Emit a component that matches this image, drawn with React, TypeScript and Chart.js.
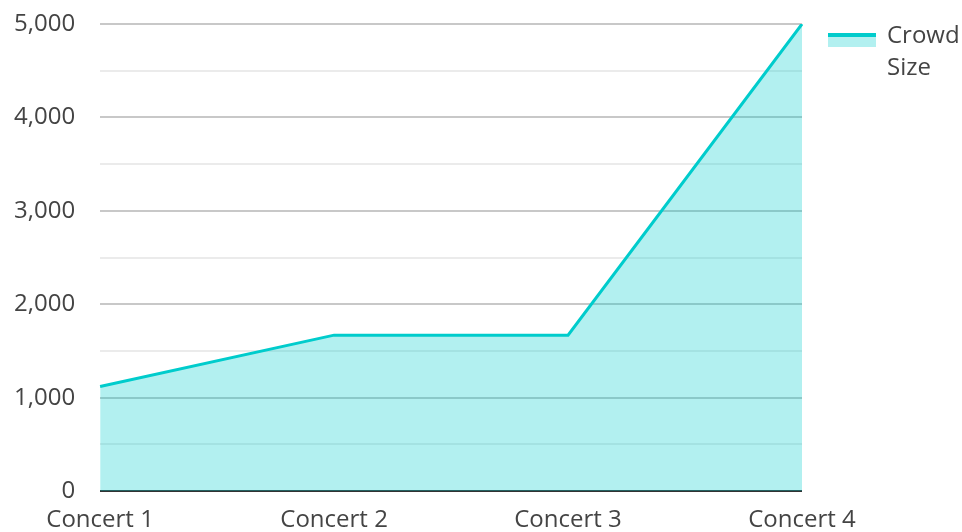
import * as React from 'react';
import { useEffect, useRef } from 'react';
import { Chart, registerables } from 'chart.js';

Chart.register(...registerables);

const categories = ['Concert 1', 'Concert 2', 'Concert 3', 'Concert 4'];
const crowdSize = [1120, 1670, 1670, 5000];
const seriesLabel = 'Crowd Size';

const LINE = '#00cccc';
const FILL = 'rgba(0, 205, 205, 0.3)';
const FONT = '"Open Sans", "Noto Sans", sans-serif';

const App = () => {
  const canvasRef = useRef<HTMLCanvasElement>(null);

  useEffect(() => {
    document.body.style.margin = '0';
    const ctx = canvasRef.current!.getContext('2d')!;
    const chart = new Chart(ctx, {
      type: 'line',
      data: {
        labels: categories,
        datasets: [{
          label: seriesLabel,
          data: crowdSize,
          borderColor: LINE,
          backgroundColor: FILL,
          borderWidth: 3,
          fill: 'origin',
          tension: 0,
          pointRadius: 0,
          pointHoverRadius: 0,
        }],
      },
      options: {
        animation: false,
        responsive: true,
        maintainAspectRatio: false,
        layout: { padding: { left: -11, right: 160, top: 24, bottom: -18 } },
        plugins: {
          legend: { display: false },
          tooltip: { enabled: false },
        },
        scales: {
          x: {
            offset: false,
            grid: { display: false, drawTicks: false },
            border: { display: false },
            ticks: {
              padding: 15,
              color: '#444',
              font: { family: FONT, size: 24 },
              maxRotation: 0,
            },
          },
          y: {
            min: 0,
            max: 5000,
            border: { display: false },
            // tick padding would otherwise push the plot top down
            afterFit: (scale: any) => {
              scale.paddingTop = 0;
              scale.paddingBottom = 0;
            },
            grid: {
              drawTicks: false,
              color: (c: any) => c.tick.value === 0 ? '#333' : (c.tick.value % 1000 === 0 ? '#c8c8c8' : '#ebebeb'),
              lineWidth: 2,
            },
            ticks: {
              stepSize: 500,
              padding: 25,
              color: '#444',
              font: { family: FONT, size: 24 },
              callback: (v: any) => (Number(v) % 1000 === 0 ? Number(v).toLocaleString('en-US') : ''),
            },
          },
        },
      },
    });
    return () => chart.destroy();
  }, []);

  return (
    <div style={{ position: 'relative', width: 962, height: 532, fontFamily: FONT }}>
      <canvas ref={canvasRef} />
      <div style={{ position: 'absolute', left: 828, top: 18, display: 'flex', alignItems: 'flex-start' }}>
        <div style={{ width: 48, marginTop: 15 }}>
          <div style={{ height: 4, background: LINE }} />
          <div style={{ height: 10, background: FILL }} />
        </div>
        <div style={{ marginLeft: 11, fontSize: 24, lineHeight: '32px', color: '#444' }}>
          Crowd<br />Size
        </div>
      </div>
    </div>
  );
};

export default App;
